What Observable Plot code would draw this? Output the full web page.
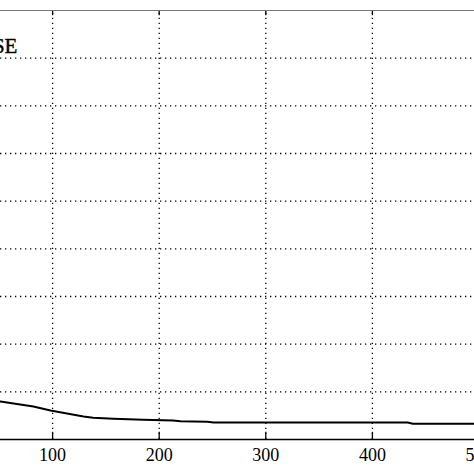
<!DOCTYPE html>
<html>
<head>
<meta charset="utf-8">
<script src="https://cdn.jsdelivr.net/npm/d3@7"></script>
<script src="https://cdn.jsdelivr.net/npm/@observablehq/plot@0.6"></script>
<style>
  html, body { margin: 0; padding: 0; background: white; }
  #chart { width: 474px; height: 474px; overflow: hidden; position: relative; }
</style>
</head>
<body>
<div id="chart"></div>
<script>
// Iterations (x) and RMSE (y)
const iterations = [45, 51, 82, 98, 129, 138, 157, 185, 213, 220, 245, 251, 276, 433, 438, 500];
const rmse = [0.081, 0.0797, 0.0692, 0.0608, 0.0482, 0.0455, 0.0434, 0.0413, 0.0398, 0.0384, 0.0371, 0.0356, 0.0356, 0.0356, 0.0329, 0.0329];
const xTicks = [100, 200, 300, 400, 500];
const yGrid = [0.1, 0.2, 0.3, 0.4, 0.5, 0.6, 0.7, 0.8];
const yMin = 0, yMax = 0.9;
const label = "RMSE";

const data = iterations.map((x, i) => ({x, y: rmse[i]}));
const serif = "'Liberation Serif', 'DejaVu Serif', serif";

const chart = Plot.plot({
  width: 474,
  height: 474,
  marginTop: 10,
  marginBottom: 35,
  marginLeft: 0,
  marginRight: 0,
  style: {fontFamily: serif, fontSize: "18px", background: "white", color: "black"},
  x: {domain: [0, 500], range: [-54.5, 478.5], label: null},
  y: {domain: [yMin, yMax], label: null, axis: null},
  marks: [
    Plot.ruleY(yGrid, {stroke: "black", strokeWidth: 1.3, strokeDasharray: "1.3,3.7"}),
    Plot.ruleX(xTicks, {y1: yMin, y2: yMax, stroke: "black", strokeWidth: 1.3, strokeDasharray: "1.3,3.7"}),
    // inward ticks bottom and top
    Plot.ruleX(xTicks, {y1: yMin, y2: yMin + 0.015, stroke: "black", strokeWidth: 1.3}),
    Plot.ruleX(xTicks, {y1: yMax - 0.011, y2: yMax, stroke: "black", strokeWidth: 1.3}),
    Plot.ruleY([yMax], {stroke: "#777", strokeWidth: 1.2}),
    Plot.ruleY([yMin], {stroke: "black", strokeWidth: 1.5}),
    Plot.line(data, {x: "x", y: "y", stroke: "black", strokeWidth: 2}),
    Plot.axisX({ticks: xTicks, tickSize: 0, tickPadding: 9, fontSize: 18, fontFamily: serif, label: null, stroke: "black", strokeWidth: 0.3, tickFormat: d => String(d)}),
    Plot.text([label], {x: 67, y: 0.825, text: d => d, textAnchor: "end", fontSize: 21, fontFamily: serif, fill: "black", stroke: "black", strokeWidth: 0.4})
  ]
});
document.getElementById("chart").append(chart);
</script>
</body>
</html>
